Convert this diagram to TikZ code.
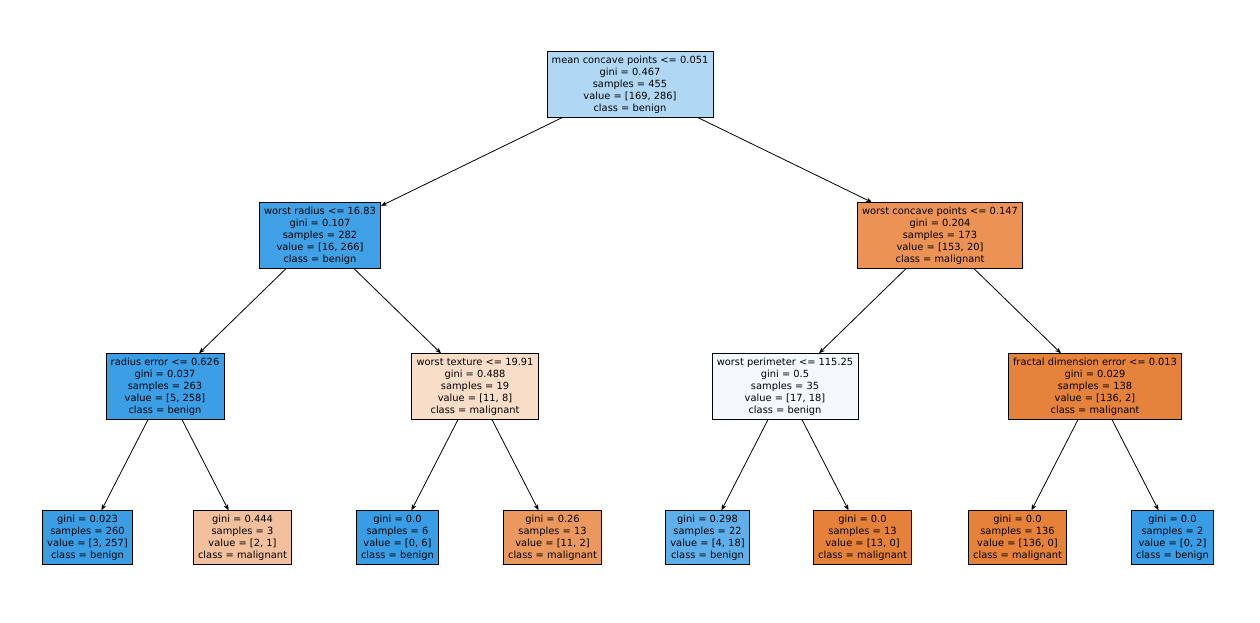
\documentclass[tikz,border=0pt]{standalone}
\usepackage{fontspec}
\setmainfont{DejaVu Sans}
\usetikzlibrary{arrows.meta}
\begin{document}
\begin{tikzpicture}[x=0.75pt,y=-0.75pt,
  tn/.style={draw=black,line width=0.6pt,align=center,inner xsep=3.5pt,inner ysep=3pt,
    font=\fontsize{7.4pt}{9pt}\selectfont},
  ed/.style={-{Stealth[length=4.5pt,width=3.5pt]},line width=0.6pt}]
\useasboundingbox[fill=white] (0,0) rectangle (1260,623);
\node[tn,fill={rgb,255:red,176;green,216;blue,245}] (r) at (630,84.5) {mean concave points <= 0.051\\gini = 0.467\\samples = 455\\value = [169, 286]\\class = benign};
\node[tn,fill={rgb,255:red,65;green,161;blue,230}] (a) at (320,235.5) {worst radius <= 16.83\\gini = 0.107\\samples = 282\\value = [16, 266]\\class = benign};
\node[tn,fill={rgb,255:red,235;green,146;blue,84}] (b) at (940,235.5) {worst concave points <= 0.147\\gini = 0.204\\samples = 173\\value = [153, 20]\\class = malignant};
\node[tn,fill={rgb,255:red,60;green,158;blue,229}] (aa) at (165,386.5) {radius error <= 0.626\\gini = 0.037\\samples = 263\\value = [5, 258]\\class = benign};
\node[tn,fill={rgb,255:red,248;green,221;blue,201}] (ab) at (475,386.5) {worst texture <= 19.91\\gini = 0.488\\samples = 19\\value = [11, 8]\\class = malignant};
\node[tn,fill={rgb,255:red,244;green,249;blue,254}] (ba) at (785,386.5) {worst perimeter <= 115.25\\gini = 0.5\\samples = 35\\value = [17, 18]\\class = benign};
\node[tn,fill={rgb,255:red,229;green,131;blue,60}] (bb) at (1095,386.5) {fractal dimension error <= 0.013\\gini = 0.029\\samples = 138\\value = [136, 2]\\class = malignant};
\node[tn,fill={rgb,255:red,59;green,158;blue,229}] (l1) at (87.5,537.5) {gini = 0.023\\samples = 260\\value = [3, 257]\\class = benign};
\node[tn,fill={rgb,255:red,242;green,192;blue,156}] (l2) at (242.5,537.5) {gini = 0.444\\samples = 3\\value = [2, 1]\\class = malignant};
\node[tn,fill={rgb,255:red,57;green,157;blue,229}] (l3) at (397.5,537.5) {gini = 0.0\\samples = 6\\value = [0, 6]\\class = benign};
\node[tn,fill={rgb,255:red,234;green,152;blue,93}] (l4) at (552.5,537.5) {gini = 0.26\\samples = 13\\value = [11, 2]\\class = malignant};
\node[tn,fill={rgb,255:red,94;green,175;blue,234}] (l5) at (707.5,537.5) {gini = 0.298\\samples = 22\\value = [4, 18]\\class = benign};
\node[tn,fill={rgb,255:red,229;green,129;blue,57}] (l6) at (862.5,537.5) {gini = 0.0\\samples = 13\\value = [13, 0]\\class = malignant};
\node[tn,fill={rgb,255:red,229;green,129;blue,57}] (l7) at (1017.5,537.5) {gini = 0.0\\samples = 136\\value = [136, 0]\\class = malignant};
\node[tn,fill={rgb,255:red,57;green,157;blue,229}] (l8) at (1172.5,537.5) {gini = 0.0\\samples = 2\\value = [0, 2]\\class = benign};
\foreach \p/\c in {r/a,r/b,a/aa,a/ab,b/ba,b/bb,aa/l1,aa/l2,ab/l3,ab/l4,ba/l5,ba/l6,bb/l7,bb/l8}
  \draw[ed] (\p) -- (\c);
\end{tikzpicture}
\end{document}
